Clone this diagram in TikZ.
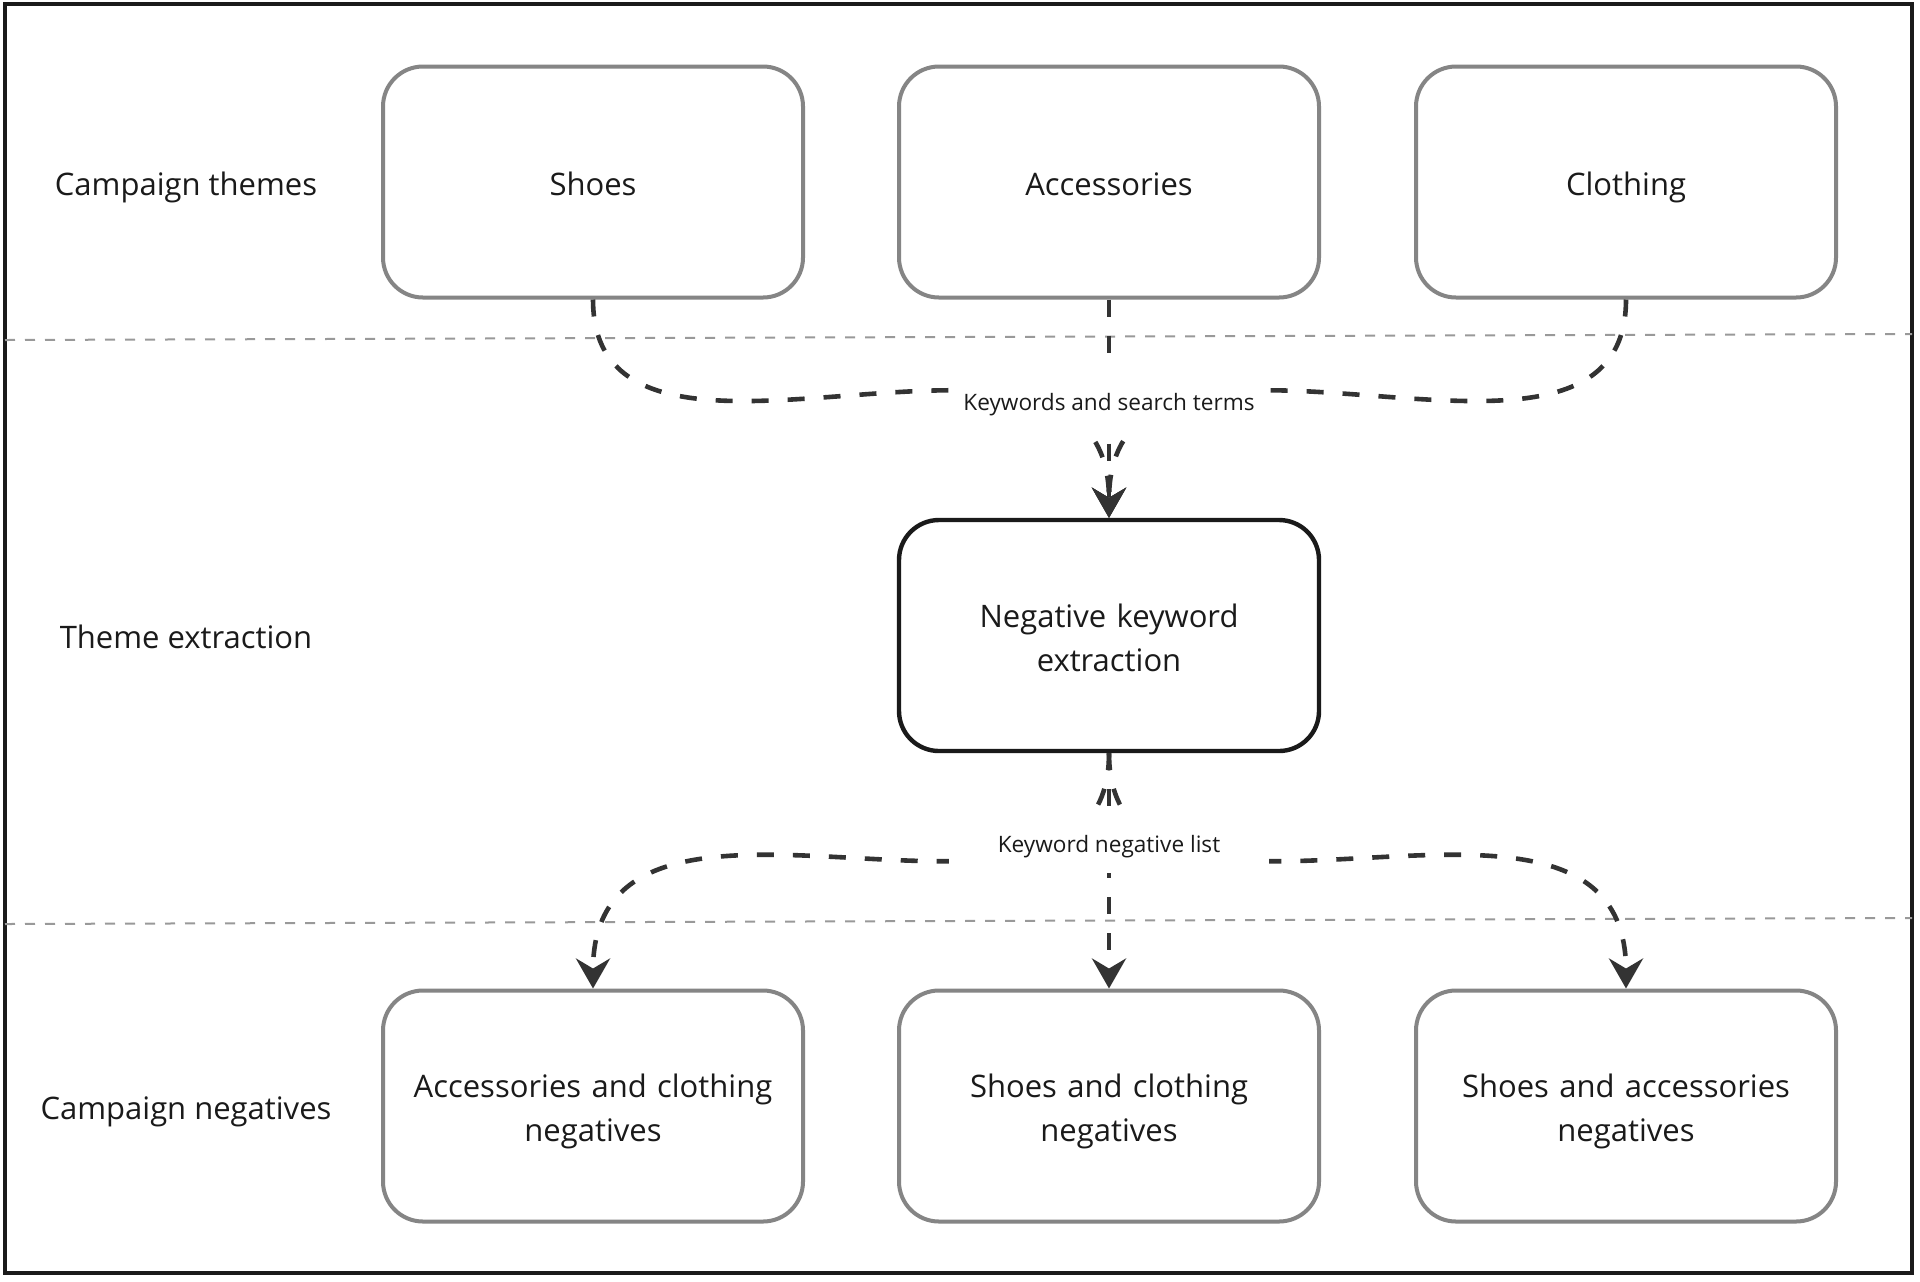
\documentclass[tikz,border=0pt]{standalone}
\usepackage{fontspec}
\setmainfont{Open Sans}
\usetikzlibrary{arrows.meta}
\definecolor{boxgray}{HTML}{858585}
\definecolor{ink}{HTML}{1A1A1A}
\definecolor{conn}{HTML}{333333}
\definecolor{sepgray}{HTML}{999999}
\newcommand\boxstrut{\rule[-4.1pt]{0pt}{22pt}}
\newcommand\rowstrut{\rule[-5.35pt]{0pt}{22pt}}
\newcommand\lblstrut{\rule[-3.4pt]{0pt}{16pt}}
\begin{document}
\begin{tikzpicture}[x=0.5pt,y=-0.5pt,
  box/.style={draw=boxgray, line width=2pt, rounded corners=20pt, minimum width=210pt, minimum height=115.5pt, align=center, text width=190pt, font=\fontsize{15.5}{22}\selectfont, text=ink, fill=white, execute at begin node=\boxstrut, execute at end node=\boxstrut},
  keybox/.style={box, draw=ink, line width=2.2pt},
  rowlabel/.style={font=\fontsize{15.5}{22}\selectfont, text=ink, execute at begin node=\rowstrut},
  flowlabel/.style={fill=white, font=\fontsize{11.3}{16}\selectfont, text=ink, minimum width=160pt, minimum height=30pt, inner sep=0pt, execute at begin node=\lblstrut},
  flow/.style={draw=conn, line width=2.3pt, dash pattern=on 8.5pt off 9.5pt, -{Stealth[length=15pt,width=17pt,inset=5pt]}},
  sep/.style={draw=sepgray, line width=1pt, dash pattern=on 5pt off 5pt}]
\useasboundingbox (0,0) rectangle (1920,1281);
\fill[white] (0,0) rectangle (1920,1281);
\draw[ink, line width=2pt] (5,4) rectangle (1912,1273);
% lane separators
\draw[sep] (5,340) -- (1912,334);
\draw[sep] (5,924) -- (1912,918);
% row labels
\node[rowlabel] (lt) at (186,184) {Campaign themes};
\node[rowlabel] (le) at (186,637) {Theme extraction};
\node[rowlabel] (ln) at (186,1108) {Campaign negatives};
% boxes
\node[box] (shoes) at (593,182) {Shoes};
\node[box] (acc) at (1109,182) {Accessories};
\node[box] (cloth) at (1626,182) {Clothing};
\node[keybox] (nke) at (1109,635.5) {Negative keyword\\extraction};
\node[box] (nac) at (593,1106) {Accessories and clothing\\negatives};
\node[box] (nsc) at (1109,1106) {Shoes and clothing\\negatives};
\node[box] (nsa) at (1626,1106) {Shoes and accessories\\negatives};
% connectors
\draw[flow] (shoes.south) .. controls (593,533) and (1109,255) .. (nke.north);
\draw[flow] (acc.south) -- (nke.north);
\draw[flow] (cloth.south) .. controls (1626,533) and (1109,255) .. (nke.north);
\draw[flow] (nke.south) .. controls (1109,993) and (593,720) .. (nac.north);
\draw[flow] (nke.south) -- (nsc.north);
\draw[flow] (nke.south) .. controls (1109,993) and (1626,720) .. (nsa.north);
% connector labels
\node[flowlabel] (kst) at (1109,401) {Keywords and search terms};
\node[flowlabel] (knl) at (1109,843) {Keyword negative list};
\end{tikzpicture}
\end{document}
